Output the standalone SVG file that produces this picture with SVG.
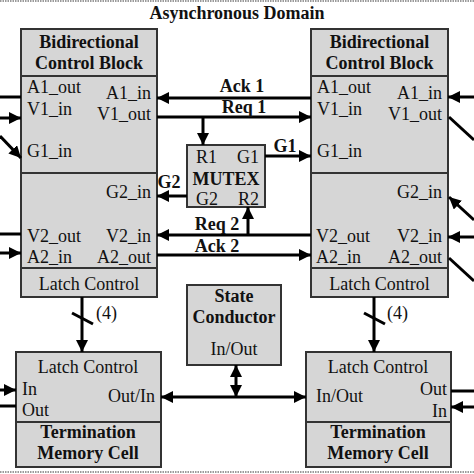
<svg xmlns="http://www.w3.org/2000/svg" width="474" height="474" viewBox="0 0 474 474">
<defs>
<marker id="ah" markerUnits="userSpaceOnUse" markerWidth="12" markerHeight="12" refX="10" refY="5" orient="auto-start-reverse" viewBox="0 0 10 10">
<path d="M0,0 L10,5 L0,10 z" fill="#000"/>
</marker>
<style>
.box{fill:#d6d6d6;stroke:#333;stroke-width:2}
.div{stroke:#333;stroke-width:2}
text{font-family:"Liberation Serif","Times New Roman",serif;font-size:18px;fill:#111}
.b{font-weight:bold}
.m{text-anchor:middle}
.e{text-anchor:end}
.c line,.c path{stroke:#000;stroke-width:3;fill:none}
.a{marker-end:url(#ah)}
.aa{marker-start:url(#ah);marker-end:url(#ah)}
.dash{stroke:#9a9a9a;stroke-width:2;stroke-dasharray:1.5 1}
</style>
</defs>
<rect width="474" height="474" fill="#fff"/>
<line class="dash" x1="0" y1="1" x2="474" y2="1"/>
<line class="dash" x1="0" y1="472" x2="474" y2="472"/>
<text class="b m" x="237" y="19">Asynchronous Domain</text>

<g id="bcb-left">
<rect class="box" x="21" y="29" width="136" height="268"/>
<line class="div" x1="21" y1="76" x2="157" y2="76"/>
<line class="div" x1="21" y1="173" x2="157" y2="173"/>
<line class="div" x1="21" y1="268" x2="157" y2="268"/>
<text class="b m" x="89" y="48">Bidirectional</text>
<text class="b m" x="89" y="69">Control Block</text>
<text x="27" y="93">A1_out</text>
<text x="27" y="115">V1_in</text>
<text x="27" y="157">G1_in</text>
<text class="e" x="151" y="99">A1_in</text>
<text class="e" x="151" y="120">V1_out</text>
<text class="e" x="151" y="198">G2_in</text>
<text x="27" y="242">V2_out</text>
<text class="e" x="151" y="242">V2_in</text>
<text x="27" y="263">A2_in</text>
<text class="e" x="151" y="263">A2_out</text>
<text class="m" x="89" y="290">Latch Control</text>
</g>

<g id="bcb-right">
<rect class="box" x="311" y="29" width="137" height="268"/>
<line class="div" x1="311" y1="76" x2="448" y2="76"/>
<line class="div" x1="311" y1="173" x2="448" y2="173"/>
<line class="div" x1="311" y1="268" x2="448" y2="268"/>
<text class="b m" x="379.5" y="48">Bidirectional</text>
<text class="b m" x="379.5" y="69">Control Block</text>
<text x="317" y="93">A1_out</text>
<text x="317" y="115">V1_in</text>
<text x="317" y="157">G1_in</text>
<text class="e" x="442" y="99">A1_in</text>
<text class="e" x="442" y="120">V1_out</text>
<text class="e" x="442" y="198">G2_in</text>
<text x="316" y="242">V2_out</text>
<text class="e" x="442" y="242">V2_in</text>
<text x="316" y="263">A2_in</text>
<text class="e" x="442" y="263">A2_out</text>
<text class="m" x="379.5" y="290">Latch Control</text>
</g>

<g id="mutex">
<rect class="box" x="187" y="145" width="78" height="62"/>
<text x="196" y="163">R1</text>
<text class="e" x="259" y="163">G1</text>
<text class="b m" x="226" y="185">MUTEX</text>
<text x="196" y="205">G2</text>
<text class="e" x="259" y="205">R2</text>
</g>

<g id="state-conductor">
<rect class="box" x="187" y="285" width="94" height="80"/>
<text class="b m" x="234" y="302">State</text>
<text class="b m" x="234" y="323">Conductor</text>
<text class="m" x="234" y="355">In/Out</text>
</g>

<g id="tmc-left">
<rect class="box" x="16" y="352" width="145" height="115"/>
<line class="div" x1="16" y1="422" x2="161" y2="422"/>
<text class="m" x="88" y="373">Latch Control</text>
<text x="22" y="395">In</text>
<text x="22" y="416">Out</text>
<text class="e" x="155" y="402">Out/In</text>
<text class="b m" x="88" y="438">Termination</text>
<text class="b m" x="88" y="459">Memory Cell</text>
</g>

<g id="tmc-right">
<rect class="box" x="306" y="352" width="145" height="115"/>
<line class="div" x1="306" y1="422" x2="451" y2="422"/>
<text class="m" x="378" y="373">Latch Control</text>
<text x="316" y="402">In/Out</text>
<text class="e" x="447" y="395">Out</text>
<text class="e" x="447" y="417">In</text>
<text class="b m" x="378" y="438">Termination</text>
<text class="b m" x="378" y="459">Memory Cell</text>
</g>

<g id="connectors" class="c">
<line class="a" x1="311" y1="98" x2="157" y2="98"/>
<line class="a" x1="157" y1="117" x2="311" y2="117"/>
<line class="a" x1="203" y1="117" x2="203" y2="145"/>
<line class="a" x1="265" y1="156" x2="311" y2="156"/>
<line class="a" x1="187" y1="196" x2="157" y2="196"/>
<line class="a" x1="311" y1="235" x2="157" y2="235"/>
<line class="a" x1="248" y1="235" x2="248" y2="207"/>
<line class="a" x1="157" y1="255" x2="311" y2="255"/>

<line x1="0" y1="97" x2="21" y2="97"/>
<line class="a" x1="0" y1="118" x2="21" y2="118"/>
<line class="a" x1="0" y1="136" x2="21" y2="158"/>
<line x1="0" y1="234" x2="21" y2="234"/>
<line class="a" x1="0" y1="253" x2="21" y2="253"/>

<line class="a" x1="474" y1="97" x2="448" y2="97"/>
<line x1="449" y1="117" x2="474" y2="140"/>
<line class="a" x1="474" y1="220" x2="449" y2="197"/>
<line class="a" x1="474" y1="237" x2="448" y2="237"/>
<line x1="449" y1="258" x2="474" y2="281"/>

<line class="a" x1="82" y1="297" x2="82" y2="352"/>
<line x1="72" y1="313" x2="93" y2="324"/>
<line class="a" x1="374" y1="297" x2="374" y2="352"/>
<line x1="364" y1="313" x2="385" y2="324"/>

<line class="a" x1="0" y1="390" x2="16" y2="390"/>
<line x1="0" y1="406" x2="16" y2="406"/>
<line x1="451" y1="391" x2="474" y2="391"/>
<line class="a" x1="474" y1="407" x2="451" y2="407"/>

<line class="aa" x1="236" y1="365" x2="236" y2="397"/>
<line class="aa" x1="161" y1="397" x2="306" y2="397"/>
</g>

<g id="labels">
<text class="b m" x="242" y="92">Ack 1</text>
<text class="b m" x="244" y="113">Req 1</text>
<text class="b m" x="285" y="152">G1</text>
<text class="b m" x="169" y="188">G2</text>
<text class="b m" x="217" y="230">Req 2</text>
<text class="b m" x="217" y="252">Ack 2</text>
<text x="96" y="319">(4)</text>
<text x="387" y="319">(4)</text>
</g>
</svg>
